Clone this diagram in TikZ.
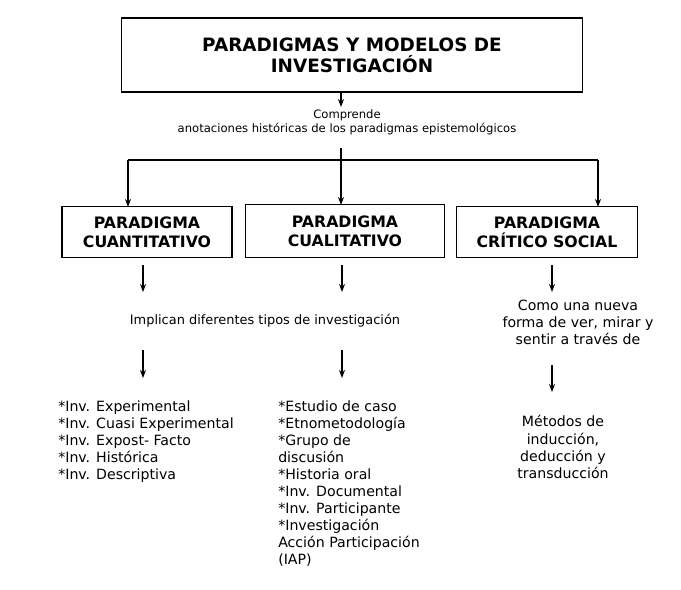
\documentclass[tikz,border=0pt]{standalone}
\usepackage{fontspec}
\setmainfont{DejaVu Sans}
\usetikzlibrary{arrows.meta}
\begin{document}
\begin{tikzpicture}[x=0.75pt,y=-0.75pt,
    every node/.style={align=center, inner sep=0pt},
    box/.style={draw, line width=0.9pt, font=\fontsize{11.8}{14}\selectfont\bfseries},
    txt/.style={font=\fontsize{10.6}{12.8}\selectfont},
    lst/.style={font=\fontsize{10.6}{12.8}\selectfont, align=left, anchor=north west},
    arr/.style={-{Stealth[length=6pt,width=4.5pt]}, line width=1.1pt}]
    \useasboundingbox (0,0) rectangle (681,589);

    % Title
    \node[box, minimum width=461*0.75pt, minimum height=74*0.75pt, font=\fontsize{13.8}{16}\selectfont\bfseries] (title) at (352,55) {PARADIGMAS Y MODELOS DE\\INVESTIGACIÓN};
    \coordinate (c1) at (341,107);
    \draw[arr] (341,92) -- (c1);
    \node[font=\fontsize{8.7}{10.5}\selectfont] (comp) at (347,122) {Comprende\\anotaciones históricas de los paradigmas epistemológicos};

    % Paradigm boxes
    \node[box, minimum width=170*0.75pt, minimum height=51*0.75pt] (cuan) at (147,232) {PARADIGMA\\CUANTITATIVO};
    \node[box, minimum width=199*0.75pt, minimum height=53*0.75pt] (cual) at (345,231) {PARADIGMA\\CUALITATIVO};
    \node[box, minimum width=181*0.75pt, minimum height=51*0.75pt] (crit) at (547,232) {PARADIGMA\\CRÍTICO SOCIAL};

    % Branches
    \coordinate (top) at (341,148);
    \coordinate (hl) at (128,160);
    \coordinate (hr) at (598,160);
    \draw[line width=1.1pt] (hl) -- (hr);
    \draw[arr] (top) -- (341,205);
    \draw[arr] (hl) -- (128,207);
    \draw[arr] (hr) -- (598,207);

    % Second level
    \draw[arr] (143,265) -- (143,292);
    \draw[arr] (342,265) -- (342,292);
    \draw[arr] (552,265) -- (552,292);
    \node[font=\fontsize{9.7}{12}\selectfont] (impl) at (265,321) {Implican diferentes tipos de investigación};
    \node[txt] (como) at (578,322) {Como una nueva\\forma de ver, mirar y\\sentir a través de};

    % Third level
    \draw[arr] (143,350) -- (143,378);
    \draw[arr] (342,350) -- (342,378);
    \draw[arr] (552,365) -- (552,392);

    \node[lst] (l1) at (58,400) {*Inv. Experimental\\*Inv. Cuasi Experimental\\*Inv. Expost- Facto\\*Inv. Histórica\\*Inv. Descriptiva};
    \node[lst] (l2) at (278,400) {*Estudio de caso\\*Etnometodología\\*Grupo de\\discusión\\*Historia oral\\*Inv. Documental\\*Inv. Participante\\*Investigación\\Acción Participación\\(IAP)};
    \node[txt] (met) at (563,447) {Métodos de\\inducción,\\deducción y\\transducción};

\end{tikzpicture}
\end{document}
